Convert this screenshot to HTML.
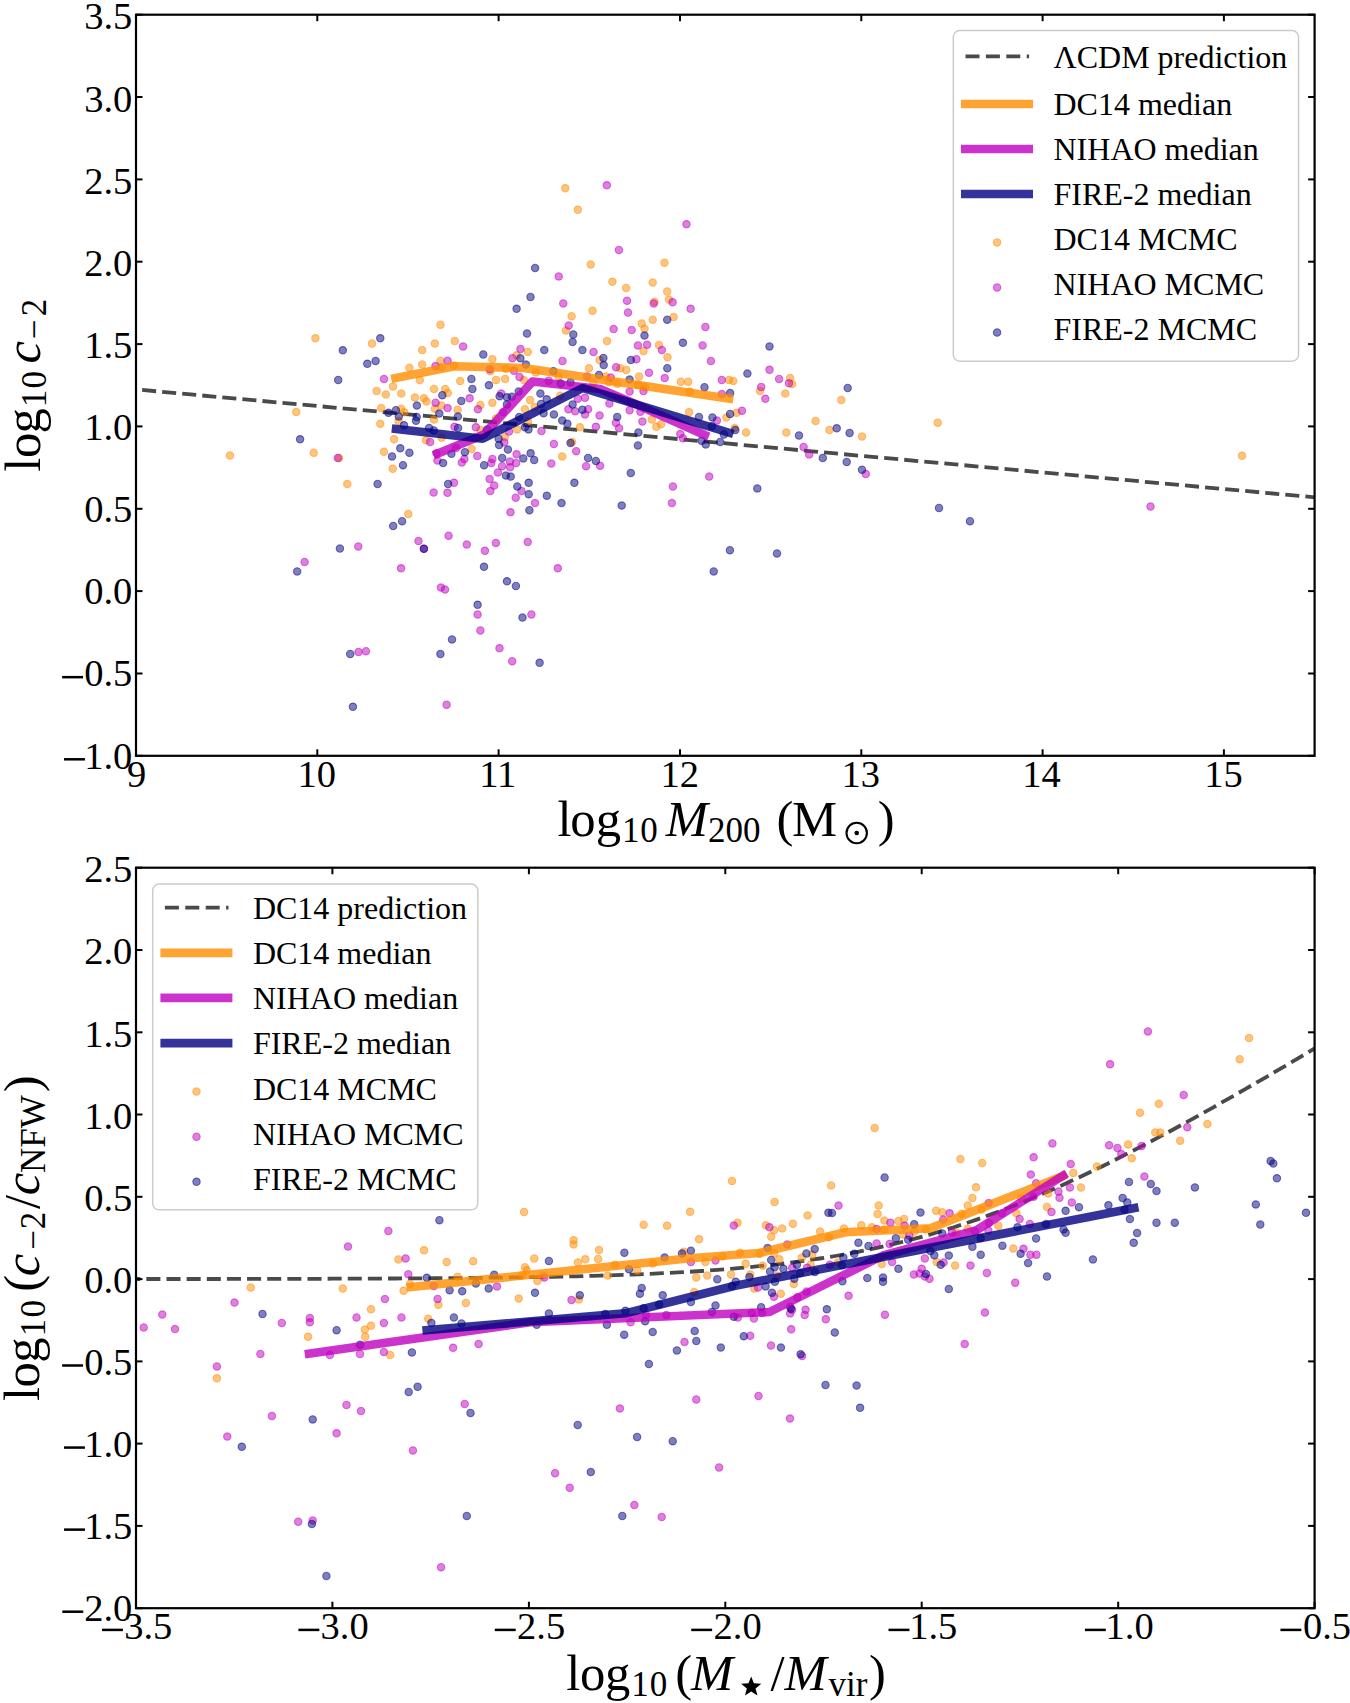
<!DOCTYPE html><html><head><meta charset="utf-8"><style>html,body{margin:0;padding:0;background:#fff;}svg{display:block;}text{font-family:"Liberation Serif",serif;fill:#000;}</style></head><body>
<svg width="1350" height="1703" viewBox="0 0 1350 1703">
<rect width="1350" height="1703" fill="#fff"/>
<defs><clipPath id="c1"><rect x="136" y="14.7" width="1178.6" height="741.0999999999999"/></clipPath></defs>
<g clip-path="url(#c1)">
<line x1="142.1" y1="389.98" x2="1320.0" y2="497.81" stroke="#4a4a4a" stroke-width="3.8" stroke-dasharray="14.06 6.08"/>
</g>
<g clip-path="url(#c1)">
<g fill="#ff8c00" fill-opacity="0.5" stroke="#ff8c00" stroke-opacity="0.5" stroke-width="1.1">
<circle cx="565.2" cy="188.3" r="3.7"/>
<circle cx="577.8" cy="209.8" r="3.7"/>
<circle cx="590.7" cy="264.6" r="3.7"/>
<circle cx="664.5" cy="262.7" r="3.7"/>
<circle cx="612.4" cy="281.8" r="3.7"/>
<circle cx="626.1" cy="288.0" r="3.7"/>
<circle cx="652.7" cy="282.6" r="3.7"/>
<circle cx="667.2" cy="291.5" r="3.7"/>
<circle cx="654.5" cy="301.7" r="3.7"/>
<circle cx="668.9" cy="299.6" r="3.7"/>
<circle cx="592.5" cy="310.8" r="3.7"/>
<circle cx="571.6" cy="316.2" r="3.7"/>
<circle cx="652.7" cy="319.7" r="3.7"/>
<circle cx="673.6" cy="317.1" r="3.7"/>
<circle cx="641.7" cy="323.5" r="3.7"/>
<circle cx="315.4" cy="338.3" r="3.7"/>
<circle cx="372.0" cy="343.6" r="3.7"/>
<circle cx="296.3" cy="411.9" r="3.7"/>
<circle cx="230.0" cy="455.4" r="3.7"/>
<circle cx="313.7" cy="452.7" r="3.7"/>
<circle cx="339.1" cy="457.9" r="3.7"/>
<circle cx="376.6" cy="390.9" r="3.7"/>
<circle cx="380.3" cy="423.7" r="3.7"/>
<circle cx="440.5" cy="324.7" r="3.7"/>
<circle cx="434.8" cy="343.6" r="3.7"/>
<circle cx="454.8" cy="340.9" r="3.7"/>
<circle cx="422.2" cy="350.1" r="3.7"/>
<circle cx="409.4" cy="367.7" r="3.7"/>
<circle cx="422.2" cy="364.4" r="3.7"/>
<circle cx="440.5" cy="360.7" r="3.7"/>
<circle cx="441.6" cy="367.2" r="3.7"/>
<circle cx="454.0" cy="365.6" r="3.7"/>
<circle cx="492.4" cy="359.2" r="3.7"/>
<circle cx="490.3" cy="371.3" r="3.7"/>
<circle cx="505.9" cy="368.7" r="3.7"/>
<circle cx="419.8" cy="379.9" r="3.7"/>
<circle cx="460.2" cy="381.0" r="3.7"/>
<circle cx="496.0" cy="379.9" r="3.7"/>
<circle cx="505.1" cy="378.9" r="3.7"/>
<circle cx="393.0" cy="386.4" r="3.7"/>
<circle cx="385.8" cy="394.5" r="3.7"/>
<circle cx="401.3" cy="393.6" r="3.7"/>
<circle cx="434.0" cy="389.0" r="3.7"/>
<circle cx="445.2" cy="389.0" r="3.7"/>
<circle cx="447.8" cy="393.1" r="3.7"/>
<circle cx="414.9" cy="397.6" r="3.7"/>
<circle cx="423.9" cy="398.3" r="3.7"/>
<circle cx="426.5" cy="401.4" r="3.7"/>
<circle cx="441.3" cy="405.6" r="3.7"/>
<circle cx="434.8" cy="408.7" r="3.7"/>
<circle cx="457.6" cy="409.7" r="3.7"/>
<circle cx="480.4" cy="405.0" r="3.7"/>
<circle cx="492.4" cy="402.7" r="3.7"/>
<circle cx="381.2" cy="408.1" r="3.7"/>
<circle cx="401.1" cy="408.7" r="3.7"/>
<circle cx="404.2" cy="412.3" r="3.7"/>
<circle cx="398.5" cy="421.1" r="3.7"/>
<circle cx="434.0" cy="419.6" r="3.7"/>
<circle cx="480.4" cy="429.9" r="3.7"/>
<circle cx="496.0" cy="418.5" r="3.7"/>
<circle cx="441.6" cy="437.7" r="3.7"/>
<circle cx="394.1" cy="439.3" r="3.7"/>
<circle cx="426.0" cy="440.3" r="3.7"/>
<circle cx="384.0" cy="451.7" r="3.7"/>
<circle cx="392.8" cy="468.8" r="3.7"/>
<circle cx="471.6" cy="449.1" r="3.7"/>
<circle cx="504.8" cy="437.2" r="3.7"/>
<circle cx="565.9" cy="330.4" r="3.7"/>
<circle cx="607.0" cy="340.9" r="3.7"/>
<circle cx="527.8" cy="351.9" r="3.7"/>
<circle cx="516.6" cy="355.3" r="3.7"/>
<circle cx="599.6" cy="359.9" r="3.7"/>
<circle cx="589.0" cy="368.2" r="3.7"/>
<circle cx="620.3" cy="368.2" r="3.7"/>
<circle cx="626.3" cy="370.0" r="3.7"/>
<circle cx="523.9" cy="380.1" r="3.7"/>
<circle cx="535.8" cy="372.4" r="3.7"/>
<circle cx="558.6" cy="376.5" r="3.7"/>
<circle cx="605.8" cy="376.5" r="3.7"/>
<circle cx="639.0" cy="376.5" r="3.7"/>
<circle cx="593.3" cy="383.3" r="3.7"/>
<circle cx="608.9" cy="382.2" r="3.7"/>
<circle cx="617.2" cy="383.8" r="3.7"/>
<circle cx="560.1" cy="395.7" r="3.7"/>
<circle cx="530.1" cy="399.9" r="3.7"/>
<circle cx="524.9" cy="409.2" r="3.7"/>
<circle cx="534.7" cy="407.1" r="3.7"/>
<circle cx="579.9" cy="427.3" r="3.7"/>
<circle cx="517.1" cy="429.4" r="3.7"/>
<circle cx="528.0" cy="421.6" r="3.7"/>
<circle cx="572.1" cy="441.9" r="3.7"/>
<circle cx="562.2" cy="456.4" r="3.7"/>
<circle cx="644.5" cy="328.8" r="3.7"/>
<circle cx="659.0" cy="344.9" r="3.7"/>
<circle cx="643.5" cy="351.1" r="3.7"/>
<circle cx="667.5" cy="357.3" r="3.7"/>
<circle cx="680.8" cy="381.7" r="3.7"/>
<circle cx="688.1" cy="381.7" r="3.7"/>
<circle cx="729.0" cy="379.9" r="3.7"/>
<circle cx="733.2" cy="381.0" r="3.7"/>
<circle cx="760.1" cy="391.0" r="3.7"/>
<circle cx="689.6" cy="391.6" r="3.7"/>
<circle cx="638.3" cy="384.8" r="3.7"/>
<circle cx="645.0" cy="386.9" r="3.7"/>
<circle cx="651.8" cy="419.6" r="3.7"/>
<circle cx="656.4" cy="426.8" r="3.7"/>
<circle cx="661.1" cy="424.2" r="3.7"/>
<circle cx="689.1" cy="412.3" r="3.7"/>
<circle cx="726.4" cy="417.5" r="3.7"/>
<circle cx="736.6" cy="412.8" r="3.7"/>
<circle cx="734.7" cy="427.9" r="3.7"/>
<circle cx="746.1" cy="432.5" r="3.7"/>
<circle cx="790.1" cy="378.1" r="3.7"/>
<circle cx="792.1" cy="383.9" r="3.7"/>
<circle cx="785.3" cy="393.6" r="3.7"/>
<circle cx="841.3" cy="399.9" r="3.7"/>
<circle cx="815.6" cy="421.0" r="3.7"/>
<circle cx="786.3" cy="432.6" r="3.7"/>
<circle cx="829.5" cy="429.9" r="3.7"/>
<circle cx="862.0" cy="436.6" r="3.7"/>
<circle cx="937.7" cy="422.7" r="3.7"/>
<circle cx="347.3" cy="483.9" r="3.7"/>
<circle cx="408.3" cy="513.9" r="3.7"/>
<circle cx="1242.0" cy="455.8" r="3.7"/>
</g>
<g fill="#bf00bf" fill-opacity="0.5" stroke="#bf00bf" stroke-opacity="0.5" stroke-width="1.1">
<circle cx="606.8" cy="185.3" r="3.7"/>
<circle cx="686.5" cy="224.3" r="3.7"/>
<circle cx="618.9" cy="249.9" r="3.7"/>
<circle cx="558.7" cy="276.4" r="3.7"/>
<circle cx="563.3" cy="303.4" r="3.7"/>
<circle cx="627.0" cy="300.7" r="3.7"/>
<circle cx="653.7" cy="303.4" r="3.7"/>
<circle cx="672.6" cy="302.3" r="3.7"/>
<circle cx="690.6" cy="308.8" r="3.7"/>
<circle cx="628.0" cy="312.5" r="3.7"/>
<circle cx="705.4" cy="327.0" r="3.7"/>
<circle cx="568.7" cy="325.6" r="3.7"/>
<circle cx="337.8" cy="457.9" r="3.7"/>
<circle cx="463.1" cy="346.4" r="3.7"/>
<circle cx="447.6" cy="360.7" r="3.7"/>
<circle cx="435.5" cy="366.1" r="3.7"/>
<circle cx="489.8" cy="369.3" r="3.7"/>
<circle cx="384.0" cy="379.1" r="3.7"/>
<circle cx="469.6" cy="398.3" r="3.7"/>
<circle cx="501.2" cy="393.6" r="3.7"/>
<circle cx="435.6" cy="402.7" r="3.7"/>
<circle cx="447.6" cy="408.1" r="3.7"/>
<circle cx="477.9" cy="409.2" r="3.7"/>
<circle cx="502.7" cy="412.3" r="3.7"/>
<circle cx="454.5" cy="426.8" r="3.7"/>
<circle cx="475.8" cy="427.3" r="3.7"/>
<circle cx="430.1" cy="441.9" r="3.7"/>
<circle cx="436.4" cy="453.3" r="3.7"/>
<circle cx="437.4" cy="460.5" r="3.7"/>
<circle cx="456.1" cy="448.1" r="3.7"/>
<circle cx="477.3" cy="455.9" r="3.7"/>
<circle cx="464.4" cy="459.0" r="3.7"/>
<circle cx="461.8" cy="462.6" r="3.7"/>
<circle cx="492.4" cy="459.0" r="3.7"/>
<circle cx="491.3" cy="463.1" r="3.7"/>
<circle cx="504.3" cy="442.4" r="3.7"/>
<circle cx="509.0" cy="431.5" r="3.7"/>
<circle cx="613.6" cy="329.1" r="3.7"/>
<circle cx="631.7" cy="329.9" r="3.7"/>
<circle cx="637.9" cy="345.4" r="3.7"/>
<circle cx="520.5" cy="349.0" r="3.7"/>
<circle cx="512.4" cy="358.2" r="3.7"/>
<circle cx="593.5" cy="351.9" r="3.7"/>
<circle cx="562.5" cy="361.0" r="3.7"/>
<circle cx="616.1" cy="367.2" r="3.7"/>
<circle cx="636.4" cy="359.2" r="3.7"/>
<circle cx="514.0" cy="370.8" r="3.7"/>
<circle cx="519.5" cy="377.0" r="3.7"/>
<circle cx="587.1" cy="376.5" r="3.7"/>
<circle cx="610.8" cy="377.6" r="3.7"/>
<circle cx="629.6" cy="391.6" r="3.7"/>
<circle cx="548.7" cy="380.7" r="3.7"/>
<circle cx="585.0" cy="397.8" r="3.7"/>
<circle cx="577.8" cy="398.8" r="3.7"/>
<circle cx="568.4" cy="409.2" r="3.7"/>
<circle cx="575.2" cy="411.3" r="3.7"/>
<circle cx="588.1" cy="409.2" r="3.7"/>
<circle cx="585.0" cy="414.4" r="3.7"/>
<circle cx="599.6" cy="415.4" r="3.7"/>
<circle cx="609.4" cy="403.5" r="3.7"/>
<circle cx="629.6" cy="410.2" r="3.7"/>
<circle cx="615.9" cy="422.7" r="3.7"/>
<circle cx="619.1" cy="428.2" r="3.7"/>
<circle cx="595.9" cy="426.8" r="3.7"/>
<circle cx="541.5" cy="431.0" r="3.7"/>
<circle cx="516.6" cy="454.3" r="3.7"/>
<circle cx="509.9" cy="461.6" r="3.7"/>
<circle cx="516.1" cy="463.1" r="3.7"/>
<circle cx="553.9" cy="443.9" r="3.7"/>
<circle cx="576.2" cy="451.2" r="3.7"/>
<circle cx="551.3" cy="463.6" r="3.7"/>
<circle cx="586.1" cy="466.2" r="3.7"/>
<circle cx="600.1" cy="465.7" r="3.7"/>
<circle cx="502.1" cy="466.2" r="3.7"/>
<circle cx="702.6" cy="345.4" r="3.7"/>
<circle cx="647.1" cy="344.7" r="3.7"/>
<circle cx="661.9" cy="350.1" r="3.7"/>
<circle cx="710.9" cy="361.0" r="3.7"/>
<circle cx="649.0" cy="372.7" r="3.7"/>
<circle cx="664.7" cy="378.1" r="3.7"/>
<circle cx="721.8" cy="379.9" r="3.7"/>
<circle cx="769.5" cy="369.8" r="3.7"/>
<circle cx="761.2" cy="386.9" r="3.7"/>
<circle cx="765.3" cy="398.8" r="3.7"/>
<circle cx="721.8" cy="394.1" r="3.7"/>
<circle cx="643.5" cy="391.0" r="3.7"/>
<circle cx="640.4" cy="411.8" r="3.7"/>
<circle cx="642.4" cy="421.6" r="3.7"/>
<circle cx="716.9" cy="420.6" r="3.7"/>
<circle cx="742.0" cy="410.7" r="3.7"/>
<circle cx="680.3" cy="434.1" r="3.7"/>
<circle cx="682.9" cy="438.2" r="3.7"/>
<circle cx="779.1" cy="378.9" r="3.7"/>
<circle cx="789.0" cy="383.3" r="3.7"/>
<circle cx="803.6" cy="446.9" r="3.7"/>
<circle cx="809.2" cy="454.4" r="3.7"/>
<circle cx="865.8" cy="473.9" r="3.7"/>
<circle cx="497.9" cy="472.4" r="3.7"/>
<circle cx="489.6" cy="479.1" r="3.7"/>
<circle cx="494.2" cy="485.5" r="3.7"/>
<circle cx="490.3" cy="491.1" r="3.7"/>
<circle cx="454.0" cy="482.8" r="3.7"/>
<circle cx="433.6" cy="492.6" r="3.7"/>
<circle cx="447.5" cy="492.8" r="3.7"/>
<circle cx="418.5" cy="540.9" r="3.7"/>
<circle cx="423.9" cy="548.8" r="3.7"/>
<circle cx="448.6" cy="535.7" r="3.7"/>
<circle cx="466.8" cy="544.6" r="3.7"/>
<circle cx="484.9" cy="550.8" r="3.7"/>
<circle cx="495.9" cy="543.0" r="3.7"/>
<circle cx="358.3" cy="546.5" r="3.7"/>
<circle cx="304.6" cy="562.0" r="3.7"/>
<circle cx="401.1" cy="568.3" r="3.7"/>
<circle cx="440.9" cy="587.6" r="3.7"/>
<circle cx="445.0" cy="589.6" r="3.7"/>
<circle cx="477.6" cy="614.5" r="3.7"/>
<circle cx="510.1" cy="467.3" r="3.7"/>
<circle cx="709.2" cy="476.6" r="3.7"/>
<circle cx="672.9" cy="486.5" r="3.7"/>
<circle cx="671.9" cy="503.1" r="3.7"/>
<circle cx="521.5" cy="491.1" r="3.7"/>
<circle cx="515.7" cy="497.7" r="3.7"/>
<circle cx="535.0" cy="503.1" r="3.7"/>
<circle cx="510.5" cy="512.3" r="3.7"/>
<circle cx="527.7" cy="541.9" r="3.7"/>
<circle cx="557.8" cy="568.3" r="3.7"/>
<circle cx="531.4" cy="614.5" r="3.7"/>
<circle cx="480.4" cy="630.5" r="3.7"/>
<circle cx="499.5" cy="648.3" r="3.7"/>
<circle cx="512.2" cy="661.2" r="3.7"/>
<circle cx="358.5" cy="651.9" r="3.7"/>
<circle cx="366.0" cy="651.2" r="3.7"/>
<circle cx="446.6" cy="704.7" r="3.7"/>
<circle cx="1150.5" cy="506.5" r="3.7"/>
</g>
<g fill="#000080" fill-opacity="0.5" stroke="#000080" stroke-opacity="0.5" stroke-width="1.1">
<circle cx="535.1" cy="268.1" r="3.7"/>
<circle cx="530.5" cy="296.9" r="3.7"/>
<circle cx="516.6" cy="308.8" r="3.7"/>
<circle cx="667.2" cy="319.7" r="3.7"/>
<circle cx="342.8" cy="350.3" r="3.7"/>
<circle cx="367.3" cy="363.8" r="3.7"/>
<circle cx="375.6" cy="360.9" r="3.7"/>
<circle cx="380.3" cy="338.3" r="3.7"/>
<circle cx="338.2" cy="379.9" r="3.7"/>
<circle cx="300.1" cy="439.3" r="3.7"/>
<circle cx="483.3" cy="354.5" r="3.7"/>
<circle cx="471.4" cy="378.9" r="3.7"/>
<circle cx="472.4" cy="389.0" r="3.7"/>
<circle cx="488.9" cy="385.3" r="3.7"/>
<circle cx="442.3" cy="395.2" r="3.7"/>
<circle cx="499.6" cy="396.2" r="3.7"/>
<circle cx="506.9" cy="397.3" r="3.7"/>
<circle cx="416.9" cy="405.6" r="3.7"/>
<circle cx="461.3" cy="400.9" r="3.7"/>
<circle cx="457.9" cy="416.4" r="3.7"/>
<circle cx="506.9" cy="404.5" r="3.7"/>
<circle cx="388.5" cy="412.8" r="3.7"/>
<circle cx="395.9" cy="410.2" r="3.7"/>
<circle cx="398.8" cy="416.4" r="3.7"/>
<circle cx="416.7" cy="417.0" r="3.7"/>
<circle cx="404.0" cy="425.3" r="3.7"/>
<circle cx="439.3" cy="413.6" r="3.7"/>
<circle cx="429.1" cy="427.9" r="3.7"/>
<circle cx="433.8" cy="430.4" r="3.7"/>
<circle cx="458.1" cy="427.9" r="3.7"/>
<circle cx="487.2" cy="429.4" r="3.7"/>
<circle cx="400.3" cy="448.3" r="3.7"/>
<circle cx="409.4" cy="452.7" r="3.7"/>
<circle cx="392.0" cy="456.4" r="3.7"/>
<circle cx="403.0" cy="465.2" r="3.7"/>
<circle cx="443.1" cy="463.1" r="3.7"/>
<circle cx="451.4" cy="453.8" r="3.7"/>
<circle cx="464.9" cy="452.2" r="3.7"/>
<circle cx="484.1" cy="465.2" r="3.7"/>
<circle cx="502.2" cy="457.9" r="3.7"/>
<circle cx="498.6" cy="438.7" r="3.7"/>
<circle cx="499.1" cy="445.0" r="3.7"/>
<circle cx="507.9" cy="449.6" r="3.7"/>
<circle cx="527.0" cy="333.5" r="3.7"/>
<circle cx="573.3" cy="334.5" r="3.7"/>
<circle cx="572.6" cy="342.0" r="3.7"/>
<circle cx="520.4" cy="358.2" r="3.7"/>
<circle cx="544.3" cy="350.1" r="3.7"/>
<circle cx="582.4" cy="350.1" r="3.7"/>
<circle cx="603.4" cy="357.9" r="3.7"/>
<circle cx="603.7" cy="365.1" r="3.7"/>
<circle cx="630.9" cy="359.9" r="3.7"/>
<circle cx="525.9" cy="364.6" r="3.7"/>
<circle cx="553.4" cy="371.3" r="3.7"/>
<circle cx="599.0" cy="375.0" r="3.7"/>
<circle cx="629.6" cy="379.6" r="3.7"/>
<circle cx="560.7" cy="383.5" r="3.7"/>
<circle cx="570.5" cy="382.2" r="3.7"/>
<circle cx="540.4" cy="393.6" r="3.7"/>
<circle cx="518.7" cy="391.6" r="3.7"/>
<circle cx="511.9" cy="396.7" r="3.7"/>
<circle cx="546.7" cy="399.3" r="3.7"/>
<circle cx="541.0" cy="404.0" r="3.7"/>
<circle cx="543.6" cy="413.3" r="3.7"/>
<circle cx="553.9" cy="414.4" r="3.7"/>
<circle cx="572.6" cy="404.5" r="3.7"/>
<circle cx="582.4" cy="409.7" r="3.7"/>
<circle cx="617.2" cy="417.0" r="3.7"/>
<circle cx="562.2" cy="420.6" r="3.7"/>
<circle cx="567.4" cy="423.7" r="3.7"/>
<circle cx="528.5" cy="429.4" r="3.7"/>
<circle cx="524.9" cy="427.3" r="3.7"/>
<circle cx="519.2" cy="417.0" r="3.7"/>
<circle cx="638.4" cy="432.5" r="3.7"/>
<circle cx="637.9" cy="445.5" r="3.7"/>
<circle cx="523.3" cy="458.4" r="3.7"/>
<circle cx="530.6" cy="453.3" r="3.7"/>
<circle cx="534.2" cy="460.0" r="3.7"/>
<circle cx="570.5" cy="442.9" r="3.7"/>
<circle cx="588.1" cy="457.9" r="3.7"/>
<circle cx="595.9" cy="461.0" r="3.7"/>
<circle cx="644.5" cy="335.6" r="3.7"/>
<circle cx="682.9" cy="342.8" r="3.7"/>
<circle cx="667.3" cy="368.2" r="3.7"/>
<circle cx="704.5" cy="387.2" r="3.7"/>
<circle cx="747.4" cy="373.6" r="3.7"/>
<circle cx="769.5" cy="346.4" r="3.7"/>
<circle cx="730.1" cy="393.1" r="3.7"/>
<circle cx="699.0" cy="417.0" r="3.7"/>
<circle cx="712.4" cy="417.5" r="3.7"/>
<circle cx="730.1" cy="413.9" r="3.7"/>
<circle cx="735.3" cy="429.9" r="3.7"/>
<circle cx="701.6" cy="440.8" r="3.7"/>
<circle cx="705.7" cy="444.4" r="3.7"/>
<circle cx="720.2" cy="441.9" r="3.7"/>
<circle cx="723.9" cy="434.6" r="3.7"/>
<circle cx="711.9" cy="426.3" r="3.7"/>
<circle cx="847.7" cy="388.0" r="3.7"/>
<circle cx="799.0" cy="435.5" r="3.7"/>
<circle cx="836.7" cy="428.3" r="3.7"/>
<circle cx="849.6" cy="433.0" r="3.7"/>
<circle cx="822.8" cy="457.9" r="3.7"/>
<circle cx="846.7" cy="461.9" r="3.7"/>
<circle cx="862.0" cy="469.7" r="3.7"/>
<circle cx="377.6" cy="483.9" r="3.7"/>
<circle cx="448.1" cy="483.9" r="3.7"/>
<circle cx="402.1" cy="521.2" r="3.7"/>
<circle cx="393.2" cy="526.0" r="3.7"/>
<circle cx="423.9" cy="548.8" r="3.7"/>
<circle cx="339.9" cy="548.6" r="3.7"/>
<circle cx="297.2" cy="571.4" r="3.7"/>
<circle cx="484.0" cy="566.8" r="3.7"/>
<circle cx="477.6" cy="604.8" r="3.7"/>
<circle cx="630.8" cy="472.9" r="3.7"/>
<circle cx="757.3" cy="488.4" r="3.7"/>
<circle cx="621.7" cy="505.6" r="3.7"/>
<circle cx="505.9" cy="475.6" r="3.7"/>
<circle cx="510.7" cy="476.6" r="3.7"/>
<circle cx="517.3" cy="486.5" r="3.7"/>
<circle cx="528.7" cy="482.8" r="3.7"/>
<circle cx="528.7" cy="494.2" r="3.7"/>
<circle cx="546.8" cy="495.7" r="3.7"/>
<circle cx="561.5" cy="503.1" r="3.7"/>
<circle cx="574.4" cy="482.8" r="3.7"/>
<circle cx="529.4" cy="510.2" r="3.7"/>
<circle cx="507.0" cy="581.3" r="3.7"/>
<circle cx="515.9" cy="585.9" r="3.7"/>
<circle cx="729.9" cy="550.2" r="3.7"/>
<circle cx="713.7" cy="571.4" r="3.7"/>
<circle cx="522.5" cy="617.6" r="3.7"/>
<circle cx="452.0" cy="639.4" r="3.7"/>
<circle cx="440.4" cy="653.9" r="3.7"/>
<circle cx="539.6" cy="662.8" r="3.7"/>
<circle cx="350.2" cy="653.9" r="3.7"/>
<circle cx="352.9" cy="706.8" r="3.7"/>
<circle cx="939.0" cy="508.0" r="3.7"/>
<circle cx="970.0" cy="521.2" r="3.7"/>
<circle cx="777.0" cy="553.5" r="3.7"/>
<circle cx="416.0" cy="420.8" r="3.7"/>
</g>
</g>
<polyline points="391.3,378.9 454.5,366.3 524.0,368.0 733.3,399.3" fill="none" stroke="rgba(255,140,0,0.8)" stroke-width="8.6" stroke-linejoin="round" stroke-linecap="butt"/>
<polyline points="433.6,455.3 484.0,434.5 532.5,381.5 600.0,389.0 633.0,403.0 708.7,436.7" fill="none" stroke="rgba(191,0,191,0.8)" stroke-width="8.6" stroke-linejoin="round" stroke-linecap="butt"/>
<polyline points="391.8,428.5 482.7,438.7 582.7,388.0 733.3,434.0" fill="none" stroke="rgba(0,0,128,0.8)" stroke-width="8.6" stroke-linejoin="round" stroke-linecap="butt"/>
<rect x="953.3" y="30.6" width="345.2" height="330.6" rx="6.4" fill="#fff" fill-opacity="0.8" stroke="#cccccc" stroke-width="1.5"/>
<line x1="965.5" y1="56.3" x2="1029.1" y2="56.3" stroke="#4a4a4a" stroke-width="3.8" stroke-dasharray="14 6.4"/>
<text x="1053.5" y="67.6" font-size="32">ΛCDM prediction</text>
<line x1="961.0" y1="104.0" x2="1033.0" y2="104.0" stroke="rgba(255,140,0,0.8)" stroke-width="8.7"/>
<text x="1053.5" y="115.3" font-size="32">DC14 median</text>
<line x1="961.0" y1="149.0" x2="1033.0" y2="149.0" stroke="rgba(191,0,191,0.8)" stroke-width="8.7"/>
<text x="1053.5" y="160.3" font-size="32">NIHAO median</text>
<line x1="961.0" y1="194.0" x2="1033.0" y2="194.0" stroke="rgba(0,0,128,0.8)" stroke-width="8.7"/>
<text x="1053.5" y="205.3" font-size="32">FIRE-2 median</text>
<circle cx="997.1" cy="242.5" r="3.7" fill="#ff8c00" fill-opacity="0.5" stroke="#ff8c00" stroke-opacity="0.5" stroke-width="1.1"/>
<text x="1053.5" y="250.4" font-size="32">DC14 MCMC</text>
<circle cx="997.1" cy="287.5" r="3.7" fill="#bf00bf" fill-opacity="0.5" stroke="#bf00bf" stroke-opacity="0.5" stroke-width="1.1"/>
<text x="1053.5" y="295.4" font-size="32">NIHAO MCMC</text>
<circle cx="997.1" cy="332.5" r="3.7" fill="#000080" fill-opacity="0.5" stroke="#000080" stroke-opacity="0.5" stroke-width="1.1"/>
<text x="1053.5" y="340.4" font-size="32">FIRE-2 MCMC</text>
<line x1="136.0" y1="755.8" x2="136.0" y2="749.3" stroke="#000" stroke-width="2"/>
<line x1="136.0" y1="14.7" x2="136.0" y2="21.2" stroke="#000" stroke-width="2"/>
<text x="126.94" y="786.80" font-size="38.5">9</text>
<line x1="317.3" y1="755.8" x2="317.3" y2="749.3" stroke="#000" stroke-width="2"/>
<line x1="317.3" y1="14.7" x2="317.3" y2="21.2" stroke="#000" stroke-width="2"/>
<text x="297.51" y="786.80" font-size="38.5">10</text>
<line x1="498.6" y1="755.8" x2="498.6" y2="749.3" stroke="#000" stroke-width="2"/>
<line x1="498.6" y1="14.7" x2="498.6" y2="21.2" stroke="#000" stroke-width="2"/>
<text x="479.26" y="786.80" font-size="38.5">11</text>
<line x1="680.0" y1="755.8" x2="680.0" y2="749.3" stroke="#000" stroke-width="2"/>
<line x1="680.0" y1="14.7" x2="680.0" y2="21.2" stroke="#000" stroke-width="2"/>
<text x="660.49" y="786.80" font-size="38.5">12</text>
<line x1="861.3" y1="755.8" x2="861.3" y2="749.3" stroke="#000" stroke-width="2"/>
<line x1="861.3" y1="14.7" x2="861.3" y2="21.2" stroke="#000" stroke-width="2"/>
<text x="841.50" y="786.80" font-size="38.5">13</text>
<line x1="1042.6" y1="755.8" x2="1042.6" y2="749.3" stroke="#000" stroke-width="2"/>
<line x1="1042.6" y1="14.7" x2="1042.6" y2="21.2" stroke="#000" stroke-width="2"/>
<text x="1022.37" y="786.80" font-size="38.5">14</text>
<line x1="1223.9" y1="755.8" x2="1223.9" y2="749.3" stroke="#000" stroke-width="2"/>
<line x1="1223.9" y1="14.7" x2="1223.9" y2="21.2" stroke="#000" stroke-width="2"/>
<text x="1204.15" y="786.80" font-size="38.5">15</text>
<line x1="136" y1="755.8" x2="142.5" y2="755.8" stroke="#000" stroke-width="2"/>
<line x1="1314.6" y1="755.8" x2="1308.1" y2="755.8" stroke="#000" stroke-width="2"/>
<rect x="64.03" y="758.05" width="20.9" height="2.5" fill="#000"/>
<text x="84.14" y="768.60" font-size="38.5">1.0</text>
<line x1="136" y1="673.5" x2="142.5" y2="673.5" stroke="#000" stroke-width="2"/>
<line x1="1314.6" y1="673.5" x2="1308.1" y2="673.5" stroke="#000" stroke-width="2"/>
<rect x="62.15" y="675.92" width="20.9" height="2.5" fill="#000"/>
<text x="84.18" y="686.47" font-size="38.5">0.5</text>
<line x1="136" y1="591.1" x2="142.5" y2="591.1" stroke="#000" stroke-width="2"/>
<line x1="1314.6" y1="591.1" x2="1308.1" y2="591.1" stroke="#000" stroke-width="2"/>
<text x="84.14" y="604.33" font-size="38.5">0.0</text>
<line x1="136" y1="508.8" x2="142.5" y2="508.8" stroke="#000" stroke-width="2"/>
<line x1="1314.6" y1="508.8" x2="1308.1" y2="508.8" stroke="#000" stroke-width="2"/>
<text x="84.18" y="522.20" font-size="38.5">0.5</text>
<line x1="136" y1="426.4" x2="142.5" y2="426.4" stroke="#000" stroke-width="2"/>
<line x1="1314.6" y1="426.4" x2="1308.1" y2="426.4" stroke="#000" stroke-width="2"/>
<text x="84.14" y="440.07" font-size="38.5">1.0</text>
<line x1="136" y1="344.1" x2="142.5" y2="344.1" stroke="#000" stroke-width="2"/>
<line x1="1314.6" y1="344.1" x2="1308.1" y2="344.1" stroke="#000" stroke-width="2"/>
<text x="84.18" y="357.93" font-size="38.5">1.5</text>
<line x1="136" y1="261.7" x2="142.5" y2="261.7" stroke="#000" stroke-width="2"/>
<line x1="1314.6" y1="261.7" x2="1308.1" y2="261.7" stroke="#000" stroke-width="2"/>
<text x="84.14" y="275.80" font-size="38.5">2.0</text>
<line x1="136" y1="179.4" x2="142.5" y2="179.4" stroke="#000" stroke-width="2"/>
<line x1="1314.6" y1="179.4" x2="1308.1" y2="179.4" stroke="#000" stroke-width="2"/>
<text x="84.18" y="193.67" font-size="38.5">2.5</text>
<line x1="136" y1="97.0" x2="142.5" y2="97.0" stroke="#000" stroke-width="2"/>
<line x1="1314.6" y1="97.0" x2="1308.1" y2="97.0" stroke="#000" stroke-width="2"/>
<text x="84.14" y="111.53" font-size="38.5">3.0</text>
<line x1="136" y1="14.7" x2="142.5" y2="14.7" stroke="#000" stroke-width="2"/>
<line x1="1314.6" y1="14.7" x2="1308.1" y2="14.7" stroke="#000" stroke-width="2"/>
<text x="84.18" y="29.40" font-size="38.5">3.5</text>
<rect x="136" y="14.7" width="1178.6" height="741.1" fill="none" stroke="#000" stroke-width="2.2"/>
<text x="557.56" y="835.70" font-size="50.7">l</text>
<text x="570.33" y="835.70" font-size="50.7">o</text>
<text x="595.72" y="835.70" font-size="50.7">g</text>
<text x="622.11" y="842.10" font-size="35.0">1</text>
<text x="640.25" y="842.10" font-size="35.0">0</text>
<text x="665.67" y="835.70" font-size="50.7" font-style="italic">M</text>
<text x="708.00" y="842.10" font-size="35.0">200</text>
<text x="776.61" y="835.70" font-size="50.7">(</text>
<text x="792.12" y="835.70" font-size="50.7">M</text>
<text x="877.86" y="835.70" font-size="50.7">)</text>
<circle cx="856.7" cy="833" r="10.2" fill="none" stroke="#000" stroke-width="2.1"/><circle cx="856.7" cy="833" r="2.3" fill="#000"/>
<text transform="translate(39.50,471.74) rotate(-90)" font-size="50.7">l</text>
<text transform="translate(39.50,457.97) rotate(-90)" font-size="50.7">o</text>
<text transform="translate(39.50,433.38) rotate(-90)" font-size="50.7">g</text>
<text transform="translate(45.90,407.29) rotate(-90)" font-size="35.0">1</text>
<text transform="translate(45.90,388.45) rotate(-90)" font-size="35.0">0</text>
<text transform="translate(39.50,363.41) rotate(-90)" font-size="50.7" font-style="italic">c</text>
<text transform="translate(45.90,339.24) rotate(-90)" font-size="35.0">−</text>
<text transform="translate(45.90,316.15) rotate(-90)" font-size="35.0">2</text>
<defs><clipPath id="c2"><rect x="136" y="867.7" width="1178.6" height="740.5"/></clipPath></defs>
<g clip-path="url(#c2)">
<polyline points="136.0,1279.0 143.9,1279.0 151.7,1279.0 159.6,1279.0 167.4,1279.0 175.3,1279.0 183.1,1279.0 191.0,1279.0 198.9,1279.0 206.7,1279.0 214.6,1279.0 222.4,1279.0 230.3,1278.9 238.1,1278.9 246.0,1278.9 253.9,1278.9 261.7,1278.9 269.6,1278.9 277.4,1278.9 285.3,1278.9 293.1,1278.8 301.0,1278.8 308.9,1278.8 316.7,1278.8 324.6,1278.8 332.4,1278.7 340.3,1278.7 348.1,1278.7 356.0,1278.7 363.9,1278.6 371.7,1278.6 379.6,1278.6 387.4,1278.5 395.3,1278.5 403.1,1278.4 411.0,1278.4 418.9,1278.3 426.7,1278.3 434.6,1278.2 442.4,1278.2 450.3,1278.1 458.2,1278.1 466.0,1278.0 473.9,1277.9 481.7,1277.8 489.6,1277.7 497.4,1277.6 505.3,1277.5 513.2,1277.4 521.0,1277.3 528.9,1277.2 536.7,1277.1 544.6,1276.9 552.4,1276.8 560.3,1276.6 568.2,1276.4 576.0,1276.3 583.9,1276.1 591.7,1275.8 599.6,1275.6 607.4,1275.4 615.3,1275.1 623.2,1274.9 631.0,1274.6 638.9,1274.3 646.7,1273.9 654.6,1273.6 662.4,1273.2 670.3,1272.8 678.2,1272.4 686.0,1272.0 693.9,1271.5 701.7,1271.0 709.6,1270.4 717.4,1269.9 725.3,1269.3 733.2,1268.6 741.0,1267.9 748.9,1267.2 756.7,1266.4 764.6,1265.6 772.4,1264.8 780.3,1263.9 788.2,1262.9 796.0,1261.9 803.9,1260.8 811.7,1259.7 819.6,1258.5 827.4,1257.3 835.3,1256.0 843.2,1254.6 851.0,1253.1 858.9,1251.6 866.7,1250.0 874.6,1248.4 882.4,1246.6 890.3,1244.8 898.2,1242.9 906.0,1241.0 913.9,1238.9 921.7,1236.8 929.6,1234.6 937.4,1232.3 945.3,1229.9 953.2,1227.5 961.0,1224.9 968.9,1222.3 976.7,1219.6 984.6,1216.8 992.4,1213.9 1000.3,1211.0 1008.2,1208.0 1016.0,1204.9 1023.9,1201.7 1031.7,1198.4 1039.6,1195.1 1047.5,1191.7 1055.3,1188.3 1063.2,1184.7 1071.0,1181.1 1078.9,1177.5 1086.7,1173.8 1094.6,1170.0 1102.5,1166.2 1110.3,1162.3 1118.2,1158.3 1126.0,1154.3 1133.9,1150.3 1141.7,1146.2 1149.6,1142.1 1157.5,1137.9 1165.3,1133.7 1173.2,1129.5 1181.0,1125.2 1188.9,1120.9 1196.7,1116.6 1204.6,1112.2 1212.5,1107.8 1220.3,1103.3 1228.2,1098.9 1236.0,1094.4 1243.9,1089.9 1251.7,1085.4 1259.6,1080.8 1267.5,1076.3 1275.3,1071.7 1283.2,1067.1 1291.0,1062.5 1298.9,1057.8 1306.7,1053.2 1314.6,1048.5" fill="none" stroke="#4a4a4a" stroke-width="3.8" stroke-dasharray="14.06 6.08" stroke-dashoffset="9.8"/>
</g>
<g clip-path="url(#c2)">
<g fill="#ff8c00" fill-opacity="0.5" stroke="#ff8c00" stroke-opacity="0.5" stroke-width="1.1">
<circle cx="398.4" cy="1259.5" r="3.7"/>
<circle cx="250.7" cy="1287.5" r="3.7"/>
<circle cx="342.8" cy="1288.5" r="3.7"/>
<circle cx="403.6" cy="1290.8" r="3.7"/>
<circle cx="371.0" cy="1309.2" r="3.7"/>
<circle cx="364.8" cy="1329.6" r="3.7"/>
<circle cx="371.0" cy="1325.8" r="3.7"/>
<circle cx="308.1" cy="1336.8" r="3.7"/>
<circle cx="365.2" cy="1336.8" r="3.7"/>
<circle cx="390.1" cy="1354.9" r="3.7"/>
<circle cx="216.9" cy="1378.3" r="3.7"/>
<circle cx="524.1" cy="1211.9" r="3.7"/>
<circle cx="424.1" cy="1250.3" r="3.7"/>
<circle cx="446.7" cy="1262.0" r="3.7"/>
<circle cx="473.2" cy="1261.2" r="3.7"/>
<circle cx="534.3" cy="1258.4" r="3.7"/>
<circle cx="525.0" cy="1267.2" r="3.7"/>
<circle cx="526.7" cy="1270.3" r="3.7"/>
<circle cx="457.6" cy="1276.7" r="3.7"/>
<circle cx="522.4" cy="1275.2" r="3.7"/>
<circle cx="409.9" cy="1284.0" r="3.7"/>
<circle cx="537.4" cy="1280.9" r="3.7"/>
<circle cx="438.4" cy="1304.7" r="3.7"/>
<circle cx="465.9" cy="1303.0" r="3.7"/>
<circle cx="518.7" cy="1298.5" r="3.7"/>
<circle cx="428.2" cy="1318.7" r="3.7"/>
<circle cx="643.6" cy="1224.7" r="3.7"/>
<circle cx="667.1" cy="1225.8" r="3.7"/>
<circle cx="573.6" cy="1240.3" r="3.7"/>
<circle cx="573.6" cy="1244.4" r="3.7"/>
<circle cx="599.0" cy="1250.1" r="3.7"/>
<circle cx="577.9" cy="1262.6" r="3.7"/>
<circle cx="585.3" cy="1259.3" r="3.7"/>
<circle cx="598.1" cy="1259.0" r="3.7"/>
<circle cx="615.0" cy="1264.7" r="3.7"/>
<circle cx="652.9" cy="1263.6" r="3.7"/>
<circle cx="543.0" cy="1275.6" r="3.7"/>
<circle cx="578.9" cy="1299.4" r="3.7"/>
<circle cx="607.8" cy="1275.6" r="3.7"/>
<circle cx="637.3" cy="1270.4" r="3.7"/>
<circle cx="774.6" cy="1201.9" r="3.7"/>
<circle cx="690.1" cy="1211.8" r="3.7"/>
<circle cx="737.6" cy="1222.7" r="3.7"/>
<circle cx="765.8" cy="1225.3" r="3.7"/>
<circle cx="774.1" cy="1230.2" r="3.7"/>
<circle cx="782.2" cy="1228.4" r="3.7"/>
<circle cx="792.9" cy="1223.7" r="3.7"/>
<circle cx="771.2" cy="1236.7" r="3.7"/>
<circle cx="699.1" cy="1239.3" r="3.7"/>
<circle cx="683.9" cy="1251.7" r="3.7"/>
<circle cx="705.4" cy="1262.1" r="3.7"/>
<circle cx="722.7" cy="1256.4" r="3.7"/>
<circle cx="739.9" cy="1252.7" r="3.7"/>
<circle cx="759.6" cy="1253.8" r="3.7"/>
<circle cx="774.1" cy="1253.3" r="3.7"/>
<circle cx="779.3" cy="1259.3" r="3.7"/>
<circle cx="745.7" cy="1263.8" r="3.7"/>
<circle cx="762.7" cy="1265.7" r="3.7"/>
<circle cx="696.3" cy="1277.6" r="3.7"/>
<circle cx="707.2" cy="1275.6" r="3.7"/>
<circle cx="731.0" cy="1274.5" r="3.7"/>
<circle cx="750.2" cy="1274.5" r="3.7"/>
<circle cx="754.2" cy="1288.5" r="3.7"/>
<circle cx="777.2" cy="1275.6" r="3.7"/>
<circle cx="780.8" cy="1293.7" r="3.7"/>
<circle cx="793.8" cy="1283.9" r="3.7"/>
<circle cx="694.2" cy="1292.1" r="3.7"/>
<circle cx="807.6" cy="1215.4" r="3.7"/>
<circle cx="878.7" cy="1205.6" r="3.7"/>
<circle cx="877.6" cy="1213.9" r="3.7"/>
<circle cx="884.4" cy="1220.6" r="3.7"/>
<circle cx="898.4" cy="1221.1" r="3.7"/>
<circle cx="904.1" cy="1219.0" r="3.7"/>
<circle cx="820.1" cy="1231.5" r="3.7"/>
<circle cx="843.9" cy="1228.4" r="3.7"/>
<circle cx="861.3" cy="1225.3" r="3.7"/>
<circle cx="871.9" cy="1227.3" r="3.7"/>
<circle cx="884.4" cy="1229.4" r="3.7"/>
<circle cx="828.9" cy="1237.2" r="3.7"/>
<circle cx="903.0" cy="1234.6" r="3.7"/>
<circle cx="914.4" cy="1231.5" r="3.7"/>
<circle cx="925.9" cy="1229.4" r="3.7"/>
<circle cx="801.9" cy="1257.4" r="3.7"/>
<circle cx="812.3" cy="1254.8" r="3.7"/>
<circle cx="810.7" cy="1264.7" r="3.7"/>
<circle cx="837.7" cy="1262.6" r="3.7"/>
<circle cx="881.8" cy="1264.1" r="3.7"/>
<circle cx="960.4" cy="1159.1" r="3.7"/>
<circle cx="982.2" cy="1163.0" r="3.7"/>
<circle cx="976.0" cy="1187.3" r="3.7"/>
<circle cx="972.4" cy="1198.0" r="3.7"/>
<circle cx="967.7" cy="1205.5" r="3.7"/>
<circle cx="936.1" cy="1210.7" r="3.7"/>
<circle cx="942.3" cy="1212.2" r="3.7"/>
<circle cx="961.5" cy="1213.8" r="3.7"/>
<circle cx="981.7" cy="1209.6" r="3.7"/>
<circle cx="1016.4" cy="1213.3" r="3.7"/>
<circle cx="1021.1" cy="1198.2" r="3.7"/>
<circle cx="1048.1" cy="1193.6" r="3.7"/>
<circle cx="1047.0" cy="1207.0" r="3.7"/>
<circle cx="967.7" cy="1228.8" r="3.7"/>
<circle cx="998.3" cy="1225.7" r="3.7"/>
<circle cx="956.3" cy="1232.4" r="3.7"/>
<circle cx="1013.3" cy="1248.5" r="3.7"/>
<circle cx="936.6" cy="1262.0" r="3.7"/>
<circle cx="955.1" cy="1265.6" r="3.7"/>
<circle cx="1249.1" cy="1038.0" r="3.7"/>
<circle cx="1239.7" cy="1059.2" r="3.7"/>
<circle cx="1158.8" cy="1103.7" r="3.7"/>
<circle cx="1140.0" cy="1112.7" r="3.7"/>
<circle cx="1207.4" cy="1124.1" r="3.7"/>
<circle cx="1155.3" cy="1132.4" r="3.7"/>
<circle cx="1160.3" cy="1132.4" r="3.7"/>
<circle cx="1180.2" cy="1140.7" r="3.7"/>
<circle cx="1128.1" cy="1144.4" r="3.7"/>
<circle cx="1131.7" cy="1158.3" r="3.7"/>
<circle cx="1097.0" cy="1166.6" r="3.7"/>
<circle cx="1073.3" cy="1173.0" r="3.7"/>
<circle cx="1080.9" cy="1187.5" r="3.7"/>
<circle cx="874.7" cy="1128.0" r="3.7"/>
<circle cx="732.0" cy="1180.9" r="3.7"/>
<circle cx="831.1" cy="1185.4" r="3.7"/>
</g>
<g fill="#bf00bf" fill-opacity="0.5" stroke="#bf00bf" stroke-opacity="0.5" stroke-width="1.1">
<circle cx="388.4" cy="1231.0" r="3.7"/>
<circle cx="348.0" cy="1246.6" r="3.7"/>
<circle cx="405.6" cy="1258.4" r="3.7"/>
<circle cx="408.3" cy="1274.2" r="3.7"/>
<circle cx="234.5" cy="1302.6" r="3.7"/>
<circle cx="384.9" cy="1299.1" r="3.7"/>
<circle cx="162.3" cy="1314.6" r="3.7"/>
<circle cx="143.7" cy="1327.5" r="3.7"/>
<circle cx="175.0" cy="1329.1" r="3.7"/>
<circle cx="281.8" cy="1322.9" r="3.7"/>
<circle cx="309.8" cy="1318.1" r="3.7"/>
<circle cx="309.8" cy="1322.3" r="3.7"/>
<circle cx="356.5" cy="1317.5" r="3.7"/>
<circle cx="383.9" cy="1322.9" r="3.7"/>
<circle cx="401.5" cy="1317.5" r="3.7"/>
<circle cx="260.4" cy="1354.0" r="3.7"/>
<circle cx="329.9" cy="1354.9" r="3.7"/>
<circle cx="360.0" cy="1354.0" r="3.7"/>
<circle cx="383.9" cy="1352.0" r="3.7"/>
<circle cx="216.9" cy="1366.5" r="3.7"/>
<circle cx="346.5" cy="1404.9" r="3.7"/>
<circle cx="361.0" cy="1411.1" r="3.7"/>
<circle cx="271.9" cy="1415.9" r="3.7"/>
<circle cx="336.6" cy="1433.3" r="3.7"/>
<circle cx="227.3" cy="1436.6" r="3.7"/>
<circle cx="412.9" cy="1450.5" r="3.7"/>
<circle cx="298.2" cy="1521.7" r="3.7"/>
<circle cx="312.7" cy="1520.6" r="3.7"/>
<circle cx="433.7" cy="1286.1" r="3.7"/>
<circle cx="497.0" cy="1286.4" r="3.7"/>
<circle cx="437.6" cy="1299.0" r="3.7"/>
<circle cx="478.6" cy="1343.9" r="3.7"/>
<circle cx="453.1" cy="1347.8" r="3.7"/>
<circle cx="464.7" cy="1403.9" r="3.7"/>
<circle cx="619.9" cy="1408.4" r="3.7"/>
<circle cx="555.1" cy="1473.2" r="3.7"/>
<circle cx="569.7" cy="1487.7" r="3.7"/>
<circle cx="441.1" cy="1567.2" r="3.7"/>
<circle cx="634.4" cy="1505.1" r="3.7"/>
<circle cx="661.7" cy="1517.0" r="3.7"/>
<circle cx="544.3" cy="1277.6" r="3.7"/>
<circle cx="571.5" cy="1299.9" r="3.7"/>
<circle cx="646.1" cy="1315.0" r="3.7"/>
<circle cx="630.6" cy="1322.2" r="3.7"/>
<circle cx="666.4" cy="1315.0" r="3.7"/>
<circle cx="733.8" cy="1225.6" r="3.7"/>
<circle cx="769.4" cy="1227.3" r="3.7"/>
<circle cx="690.9" cy="1262.1" r="3.7"/>
<circle cx="715.5" cy="1260.5" r="3.7"/>
<circle cx="787.3" cy="1244.4" r="3.7"/>
<circle cx="792.2" cy="1267.8" r="3.7"/>
<circle cx="758.0" cy="1287.5" r="3.7"/>
<circle cx="773.9" cy="1296.8" r="3.7"/>
<circle cx="737.8" cy="1317.6" r="3.7"/>
<circle cx="751.8" cy="1312.9" r="3.7"/>
<circle cx="753.9" cy="1318.6" r="3.7"/>
<circle cx="762.1" cy="1312.9" r="3.7"/>
<circle cx="790.1" cy="1306.7" r="3.7"/>
<circle cx="790.1" cy="1313.4" r="3.7"/>
<circle cx="791.2" cy="1329.3" r="3.7"/>
<circle cx="750.2" cy="1335.7" r="3.7"/>
<circle cx="684.5" cy="1342.0" r="3.7"/>
<circle cx="771.0" cy="1345.6" r="3.7"/>
<circle cx="802.1" cy="1355.9" r="3.7"/>
<circle cx="696.3" cy="1399.5" r="3.7"/>
<circle cx="758.5" cy="1396.0" r="3.7"/>
<circle cx="790.0" cy="1418.6" r="3.7"/>
<circle cx="719.1" cy="1467.5" r="3.7"/>
<circle cx="838.5" cy="1205.6" r="3.7"/>
<circle cx="890.4" cy="1222.7" r="3.7"/>
<circle cx="904.6" cy="1225.8" r="3.7"/>
<circle cx="876.6" cy="1228.9" r="3.7"/>
<circle cx="909.3" cy="1235.6" r="3.7"/>
<circle cx="876.6" cy="1243.4" r="3.7"/>
<circle cx="889.6" cy="1243.9" r="3.7"/>
<circle cx="807.1" cy="1267.8" r="3.7"/>
<circle cx="829.9" cy="1264.7" r="3.7"/>
<circle cx="892.1" cy="1262.1" r="3.7"/>
<circle cx="924.8" cy="1258.4" r="3.7"/>
<circle cx="921.7" cy="1268.8" r="3.7"/>
<circle cx="913.9" cy="1274.5" r="3.7"/>
<circle cx="919.6" cy="1273.5" r="3.7"/>
<circle cx="924.8" cy="1276.6" r="3.7"/>
<circle cx="929.5" cy="1278.7" r="3.7"/>
<circle cx="848.6" cy="1295.8" r="3.7"/>
<circle cx="806.6" cy="1291.6" r="3.7"/>
<circle cx="797.3" cy="1297.3" r="3.7"/>
<circle cx="792.1" cy="1309.8" r="3.7"/>
<circle cx="805.6" cy="1309.8" r="3.7"/>
<circle cx="804.7" cy="1315.0" r="3.7"/>
<circle cx="825.8" cy="1319.3" r="3.7"/>
<circle cx="884.9" cy="1314.7" r="3.7"/>
<circle cx="1033.6" cy="1157.3" r="3.7"/>
<circle cx="1030.8" cy="1174.6" r="3.7"/>
<circle cx="1036.1" cy="1183.2" r="3.7"/>
<circle cx="988.7" cy="1203.1" r="3.7"/>
<circle cx="949.6" cy="1213.3" r="3.7"/>
<circle cx="943.3" cy="1219.5" r="3.7"/>
<circle cx="1001.9" cy="1213.3" r="3.7"/>
<circle cx="1019.6" cy="1219.0" r="3.7"/>
<circle cx="1033.6" cy="1196.7" r="3.7"/>
<circle cx="1051.5" cy="1212.0" r="3.7"/>
<circle cx="1058.4" cy="1191.5" r="3.7"/>
<circle cx="1059.5" cy="1197.7" r="3.7"/>
<circle cx="989.0" cy="1223.1" r="3.7"/>
<circle cx="1029.9" cy="1224.1" r="3.7"/>
<circle cx="952.1" cy="1232.4" r="3.7"/>
<circle cx="975.0" cy="1231.4" r="3.7"/>
<circle cx="988.4" cy="1230.4" r="3.7"/>
<circle cx="1023.5" cy="1248.8" r="3.7"/>
<circle cx="1030.4" cy="1254.7" r="3.7"/>
<circle cx="1036.4" cy="1254.7" r="3.7"/>
<circle cx="943.6" cy="1262.5" r="3.7"/>
<circle cx="970.5" cy="1265.6" r="3.7"/>
<circle cx="986.9" cy="1272.9" r="3.7"/>
<circle cx="1015.2" cy="1282.7" r="3.7"/>
<circle cx="1147.9" cy="1031.4" r="3.7"/>
<circle cx="1110.1" cy="1064.3" r="3.7"/>
<circle cx="1183.7" cy="1095.0" r="3.7"/>
<circle cx="1187.3" cy="1127.2" r="3.7"/>
<circle cx="1052.4" cy="1143.4" r="3.7"/>
<circle cx="1109.1" cy="1145.2" r="3.7"/>
<circle cx="1117.4" cy="1147.9" r="3.7"/>
<circle cx="1121.3" cy="1154.1" r="3.7"/>
<circle cx="1141.6" cy="1145.9" r="3.7"/>
<circle cx="1070.7" cy="1164.1" r="3.7"/>
<circle cx="1144.4" cy="1176.6" r="3.7"/>
<circle cx="1069.9" cy="1187.5" r="3.7"/>
<circle cx="1071.8" cy="1202.5" r="3.7"/>
<circle cx="984.9" cy="1312.6" r="3.7"/>
<circle cx="964.7" cy="1344.1" r="3.7"/>
</g>
<g fill="#000080" fill-opacity="0.5" stroke="#000080" stroke-opacity="0.5" stroke-width="1.1">
<circle cx="262.5" cy="1314.0" r="3.7"/>
<circle cx="336.6" cy="1330.2" r="3.7"/>
<circle cx="360.0" cy="1344.7" r="3.7"/>
<circle cx="411.9" cy="1352.4" r="3.7"/>
<circle cx="408.7" cy="1392.0" r="3.7"/>
<circle cx="312.7" cy="1419.4" r="3.7"/>
<circle cx="241.8" cy="1446.8" r="3.7"/>
<circle cx="311.9" cy="1524.1" r="3.7"/>
<circle cx="326.4" cy="1576.0" r="3.7"/>
<circle cx="439.4" cy="1220.2" r="3.7"/>
<circle cx="426.8" cy="1277.8" r="3.7"/>
<circle cx="494.2" cy="1274.7" r="3.7"/>
<circle cx="449.6" cy="1290.2" r="3.7"/>
<circle cx="462.2" cy="1291.3" r="3.7"/>
<circle cx="475.9" cy="1283.5" r="3.7"/>
<circle cx="488.7" cy="1288.5" r="3.7"/>
<circle cx="535.0" cy="1292.8" r="3.7"/>
<circle cx="431.4" cy="1322.9" r="3.7"/>
<circle cx="453.9" cy="1317.5" r="3.7"/>
<circle cx="461.5" cy="1323.4" r="3.7"/>
<circle cx="676.9" cy="1350.4" r="3.7"/>
<circle cx="648.9" cy="1363.9" r="3.7"/>
<circle cx="417.6" cy="1386.7" r="3.7"/>
<circle cx="470.5" cy="1413.0" r="3.7"/>
<circle cx="577.7" cy="1425.0" r="3.7"/>
<circle cx="637.1" cy="1436.9" r="3.7"/>
<circle cx="672.7" cy="1441.2" r="3.7"/>
<circle cx="590.8" cy="1472.1" r="3.7"/>
<circle cx="466.8" cy="1515.9" r="3.7"/>
<circle cx="622.3" cy="1515.9" r="3.7"/>
<circle cx="624.4" cy="1252.7" r="3.7"/>
<circle cx="548.9" cy="1261.0" r="3.7"/>
<circle cx="664.6" cy="1257.4" r="3.7"/>
<circle cx="579.8" cy="1295.3" r="3.7"/>
<circle cx="629.0" cy="1269.3" r="3.7"/>
<circle cx="641.7" cy="1288.0" r="3.7"/>
<circle cx="639.9" cy="1293.7" r="3.7"/>
<circle cx="662.7" cy="1295.3" r="3.7"/>
<circle cx="548.9" cy="1313.4" r="3.7"/>
<circle cx="536.7" cy="1324.8" r="3.7"/>
<circle cx="605.2" cy="1313.9" r="3.7"/>
<circle cx="625.4" cy="1310.8" r="3.7"/>
<circle cx="643.6" cy="1308.2" r="3.7"/>
<circle cx="659.1" cy="1304.6" r="3.7"/>
<circle cx="645.1" cy="1321.2" r="3.7"/>
<circle cx="606.9" cy="1324.8" r="3.7"/>
<circle cx="624.2" cy="1334.7" r="3.7"/>
<circle cx="652.7" cy="1332.1" r="3.7"/>
<circle cx="682.0" cy="1253.5" r="3.7"/>
<circle cx="690.9" cy="1250.7" r="3.7"/>
<circle cx="767.6" cy="1248.1" r="3.7"/>
<circle cx="771.2" cy="1260.0" r="3.7"/>
<circle cx="774.6" cy="1267.3" r="3.7"/>
<circle cx="783.4" cy="1268.8" r="3.7"/>
<circle cx="796.9" cy="1264.7" r="3.7"/>
<circle cx="717.3" cy="1279.2" r="3.7"/>
<circle cx="770.1" cy="1271.4" r="3.7"/>
<circle cx="749.4" cy="1277.1" r="3.7"/>
<circle cx="735.7" cy="1281.8" r="3.7"/>
<circle cx="732.1" cy="1285.9" r="3.7"/>
<circle cx="765.6" cy="1286.4" r="3.7"/>
<circle cx="774.9" cy="1281.8" r="3.7"/>
<circle cx="772.0" cy="1292.7" r="3.7"/>
<circle cx="794.3" cy="1278.7" r="3.7"/>
<circle cx="690.9" cy="1302.0" r="3.7"/>
<circle cx="715.5" cy="1305.4" r="3.7"/>
<circle cx="711.9" cy="1311.9" r="3.7"/>
<circle cx="733.8" cy="1316.8" r="3.7"/>
<circle cx="761.1" cy="1307.2" r="3.7"/>
<circle cx="790.9" cy="1308.7" r="3.7"/>
<circle cx="694.7" cy="1331.0" r="3.7"/>
<circle cx="743.8" cy="1336.2" r="3.7"/>
<circle cx="696.3" cy="1341.0" r="3.7"/>
<circle cx="720.8" cy="1347.6" r="3.7"/>
<circle cx="780.9" cy="1347.6" r="3.7"/>
<circle cx="800.6" cy="1354.3" r="3.7"/>
<circle cx="834.8" cy="1332.5" r="3.7"/>
<circle cx="825.5" cy="1385.0" r="3.7"/>
<circle cx="856.6" cy="1385.6" r="3.7"/>
<circle cx="860.1" cy="1407.8" r="3.7"/>
<circle cx="828.4" cy="1212.8" r="3.7"/>
<circle cx="832.0" cy="1213.0" r="3.7"/>
<circle cx="914.2" cy="1224.2" r="3.7"/>
<circle cx="920.5" cy="1212.6" r="3.7"/>
<circle cx="895.8" cy="1238.2" r="3.7"/>
<circle cx="908.2" cy="1239.8" r="3.7"/>
<circle cx="858.4" cy="1242.7" r="3.7"/>
<circle cx="868.5" cy="1246.0" r="3.7"/>
<circle cx="814.7" cy="1249.1" r="3.7"/>
<circle cx="806.4" cy="1253.5" r="3.7"/>
<circle cx="843.4" cy="1257.4" r="3.7"/>
<circle cx="854.3" cy="1253.8" r="3.7"/>
<circle cx="898.4" cy="1268.8" r="3.7"/>
<circle cx="841.9" cy="1265.2" r="3.7"/>
<circle cx="925.9" cy="1274.0" r="3.7"/>
<circle cx="800.1" cy="1273.0" r="3.7"/>
<circle cx="814.9" cy="1271.9" r="3.7"/>
<circle cx="842.4" cy="1281.3" r="3.7"/>
<circle cx="867.3" cy="1278.1" r="3.7"/>
<circle cx="883.0" cy="1277.6" r="3.7"/>
<circle cx="883.0" cy="1281.8" r="3.7"/>
<circle cx="826.8" cy="1309.3" r="3.7"/>
<circle cx="1017.5" cy="1227.3" r="3.7"/>
<circle cx="1046.0" cy="1224.1" r="3.7"/>
<circle cx="942.3" cy="1233.5" r="3.7"/>
<circle cx="980.7" cy="1238.1" r="3.7"/>
<circle cx="1036.1" cy="1238.5" r="3.7"/>
<circle cx="972.4" cy="1246.8" r="3.7"/>
<circle cx="1002.4" cy="1245.7" r="3.7"/>
<circle cx="1020.6" cy="1253.7" r="3.7"/>
<circle cx="1028.1" cy="1263.0" r="3.7"/>
<circle cx="930.4" cy="1251.1" r="3.7"/>
<circle cx="934.3" cy="1255.3" r="3.7"/>
<circle cx="948.8" cy="1255.6" r="3.7"/>
<circle cx="980.7" cy="1254.7" r="3.7"/>
<circle cx="940.7" cy="1264.8" r="3.7"/>
<circle cx="1047.0" cy="1276.5" r="3.7"/>
<circle cx="948.8" cy="1289.0" r="3.7"/>
<circle cx="1270.6" cy="1161.0" r="3.7"/>
<circle cx="1273.3" cy="1163.5" r="3.7"/>
<circle cx="1129.0" cy="1182.0" r="3.7"/>
<circle cx="1150.8" cy="1183.9" r="3.7"/>
<circle cx="1156.5" cy="1191.1" r="3.7"/>
<circle cx="1079.0" cy="1207.2" r="3.7"/>
<circle cx="1065.6" cy="1210.8" r="3.7"/>
<circle cx="1108.4" cy="1205.3" r="3.7"/>
<circle cx="1122.6" cy="1197.9" r="3.7"/>
<circle cx="1127.3" cy="1202.5" r="3.7"/>
<circle cx="1124.5" cy="1209.8" r="3.7"/>
<circle cx="1129.9" cy="1219.1" r="3.7"/>
<circle cx="1156.5" cy="1222.7" r="3.7"/>
<circle cx="1174.8" cy="1222.7" r="3.7"/>
<circle cx="1137.1" cy="1232.9" r="3.7"/>
<circle cx="1063.5" cy="1229.5" r="3.7"/>
<circle cx="1260.3" cy="1224.6" r="3.7"/>
<circle cx="1133.7" cy="1242.8" r="3.7"/>
<circle cx="1092.9" cy="1259.4" r="3.7"/>
<circle cx="1276.9" cy="1178.3" r="3.7"/>
<circle cx="1194.9" cy="1187.4" r="3.7"/>
<circle cx="1255.8" cy="1204.4" r="3.7"/>
<circle cx="1306.0" cy="1212.8" r="3.7"/>
<circle cx="884.6" cy="1177.5" r="3.7"/>
<circle cx="1065.6" cy="1232.8" r="3.7"/>
</g>
</g>
<polyline points="406.7,1287.5 690.0,1258.2 759.0,1253.0 845.5,1232.3 930.4,1228.3 1066.7,1174.5" fill="none" stroke="rgba(255,140,0,0.8)" stroke-width="8.6" stroke-linejoin="round" stroke-linecap="butt"/>
<polyline points="304.8,1354.3 530.0,1322.3 769.5,1312.0 883.0,1255.5 976.0,1230.5 1066.7,1173.3" fill="none" stroke="rgba(191,0,191,0.8)" stroke-width="8.6" stroke-linejoin="round" stroke-linecap="butt"/>
<polyline points="422.4,1330.5 625.2,1313.3 734.0,1286.0 1138.5,1207.3" fill="none" stroke="rgba(0,0,128,0.8)" stroke-width="8.6" stroke-linejoin="round" stroke-linecap="butt"/>
<rect x="152.7" y="884.1" width="325.1" height="325.7" rx="6.4" fill="#fff" fill-opacity="0.8" stroke="#cccccc" stroke-width="1.5"/>
<line x1="164.9" y1="907.7" x2="228.5" y2="907.7" stroke="#4a4a4a" stroke-width="3.8" stroke-dasharray="14 6.4"/>
<text x="252.9" y="919.0" font-size="32">DC14 prediction</text>
<line x1="160.4" y1="952.8" x2="232.4" y2="952.8" stroke="rgba(255,140,0,0.8)" stroke-width="8.7"/>
<text x="252.9" y="964.1" font-size="32">DC14 median</text>
<line x1="160.4" y1="997.9" x2="232.4" y2="997.9" stroke="rgba(191,0,191,0.8)" stroke-width="8.7"/>
<text x="252.9" y="1009.2" font-size="32">NIHAO median</text>
<line x1="160.4" y1="1043.1" x2="232.4" y2="1043.1" stroke="rgba(0,0,128,0.8)" stroke-width="8.7"/>
<text x="252.9" y="1054.4" font-size="32">FIRE-2 median</text>
<circle cx="196.5" cy="1091.6" r="3.7" fill="#ff8c00" fill-opacity="0.5" stroke="#ff8c00" stroke-opacity="0.5" stroke-width="1.1"/>
<text x="252.9" y="1099.5" font-size="32">DC14 MCMC</text>
<circle cx="196.5" cy="1136.7" r="3.7" fill="#bf00bf" fill-opacity="0.5" stroke="#bf00bf" stroke-opacity="0.5" stroke-width="1.1"/>
<text x="252.9" y="1144.6" font-size="32">NIHAO MCMC</text>
<circle cx="196.5" cy="1181.8" r="3.7" fill="#000080" fill-opacity="0.5" stroke="#000080" stroke-opacity="0.5" stroke-width="1.1"/>
<text x="252.9" y="1189.7" font-size="32">FIRE-2 MCMC</text>
<line x1="136.0" y1="1608.2" x2="136.0" y2="1601.7" stroke="#000" stroke-width="2"/>
<line x1="136.0" y1="867.7" x2="136.0" y2="874.2" stroke="#000" stroke-width="2"/>
<rect x="102.01" y="1628.65" width="20.9" height="2.5" fill="#000"/>
<text x="124.17" y="1639.20" font-size="38.5">3.5</text>
<line x1="332.4" y1="1608.2" x2="332.4" y2="1601.7" stroke="#000" stroke-width="2"/>
<line x1="332.4" y1="867.7" x2="332.4" y2="874.2" stroke="#000" stroke-width="2"/>
<rect x="298.43" y="1628.65" width="20.9" height="2.5" fill="#000"/>
<text x="320.58" y="1639.20" font-size="38.5">3.0</text>
<line x1="528.9" y1="1608.2" x2="528.9" y2="1601.7" stroke="#000" stroke-width="2"/>
<line x1="528.9" y1="867.7" x2="528.9" y2="874.2" stroke="#000" stroke-width="2"/>
<rect x="494.80" y="1628.65" width="20.9" height="2.5" fill="#000"/>
<text x="517.11" y="1639.20" font-size="38.5">2.5</text>
<line x1="725.3" y1="1608.2" x2="725.3" y2="1601.7" stroke="#000" stroke-width="2"/>
<line x1="725.3" y1="867.7" x2="725.3" y2="874.2" stroke="#000" stroke-width="2"/>
<rect x="691.22" y="1628.65" width="20.9" height="2.5" fill="#000"/>
<text x="713.52" y="1639.20" font-size="38.5">2.0</text>
<line x1="921.7" y1="1608.2" x2="921.7" y2="1601.7" stroke="#000" stroke-width="2"/>
<line x1="921.7" y1="867.7" x2="921.7" y2="874.2" stroke="#000" stroke-width="2"/>
<rect x="888.51" y="1628.65" width="20.9" height="2.5" fill="#000"/>
<text x="909.13" y="1639.20" font-size="38.5">1.5</text>
<line x1="1118.2" y1="1608.2" x2="1118.2" y2="1601.7" stroke="#000" stroke-width="2"/>
<line x1="1118.2" y1="867.7" x2="1118.2" y2="874.2" stroke="#000" stroke-width="2"/>
<rect x="1084.93" y="1628.65" width="20.9" height="2.5" fill="#000"/>
<text x="1105.55" y="1639.20" font-size="38.5">1.0</text>
<line x1="1314.6" y1="1608.2" x2="1314.6" y2="1601.7" stroke="#000" stroke-width="2"/>
<line x1="1314.6" y1="867.7" x2="1314.6" y2="874.2" stroke="#000" stroke-width="2"/>
<rect x="1280.42" y="1628.65" width="20.9" height="2.5" fill="#000"/>
<text x="1302.96" y="1639.20" font-size="38.5">0.5</text>
<line x1="136" y1="1608.2" x2="142.5" y2="1608.2" stroke="#000" stroke-width="2"/>
<line x1="1314.6" y1="1608.2" x2="1308.1" y2="1608.2" stroke="#000" stroke-width="2"/>
<rect x="62.33" y="1610.45" width="20.9" height="2.5" fill="#000"/>
<text x="84.14" y="1621.00" font-size="38.5">2.0</text>
<line x1="136" y1="1525.9" x2="142.5" y2="1525.9" stroke="#000" stroke-width="2"/>
<line x1="1314.6" y1="1525.9" x2="1308.1" y2="1525.9" stroke="#000" stroke-width="2"/>
<rect x="64.06" y="1528.38" width="20.9" height="2.5" fill="#000"/>
<text x="84.18" y="1538.93" font-size="38.5">1.5</text>
<line x1="136" y1="1443.6" x2="142.5" y2="1443.6" stroke="#000" stroke-width="2"/>
<line x1="1314.6" y1="1443.6" x2="1308.1" y2="1443.6" stroke="#000" stroke-width="2"/>
<rect x="64.03" y="1446.32" width="20.9" height="2.5" fill="#000"/>
<text x="84.14" y="1456.87" font-size="38.5">1.0</text>
<line x1="136" y1="1361.4" x2="142.5" y2="1361.4" stroke="#000" stroke-width="2"/>
<line x1="1314.6" y1="1361.4" x2="1308.1" y2="1361.4" stroke="#000" stroke-width="2"/>
<rect x="62.15" y="1364.25" width="20.9" height="2.5" fill="#000"/>
<text x="84.18" y="1374.80" font-size="38.5">0.5</text>
<line x1="136" y1="1279.1" x2="142.5" y2="1279.1" stroke="#000" stroke-width="2"/>
<line x1="1314.6" y1="1279.1" x2="1308.1" y2="1279.1" stroke="#000" stroke-width="2"/>
<text x="84.14" y="1292.73" font-size="38.5">0.0</text>
<line x1="136" y1="1196.8" x2="142.5" y2="1196.8" stroke="#000" stroke-width="2"/>
<line x1="1314.6" y1="1196.8" x2="1308.1" y2="1196.8" stroke="#000" stroke-width="2"/>
<text x="84.18" y="1210.67" font-size="38.5">0.5</text>
<line x1="136" y1="1114.5" x2="142.5" y2="1114.5" stroke="#000" stroke-width="2"/>
<line x1="1314.6" y1="1114.5" x2="1308.1" y2="1114.5" stroke="#000" stroke-width="2"/>
<text x="84.14" y="1128.60" font-size="38.5">1.0</text>
<line x1="136" y1="1032.3" x2="142.5" y2="1032.3" stroke="#000" stroke-width="2"/>
<line x1="1314.6" y1="1032.3" x2="1308.1" y2="1032.3" stroke="#000" stroke-width="2"/>
<text x="84.18" y="1046.53" font-size="38.5">1.5</text>
<line x1="136" y1="950.0" x2="142.5" y2="950.0" stroke="#000" stroke-width="2"/>
<line x1="1314.6" y1="950.0" x2="1308.1" y2="950.0" stroke="#000" stroke-width="2"/>
<text x="84.14" y="964.47" font-size="38.5">2.0</text>
<line x1="136" y1="867.7" x2="142.5" y2="867.7" stroke="#000" stroke-width="2"/>
<line x1="1314.6" y1="867.7" x2="1308.1" y2="867.7" stroke="#000" stroke-width="2"/>
<text x="84.18" y="882.40" font-size="38.5">2.5</text>
<rect x="136" y="867.7" width="1178.6" height="740.5" fill="none" stroke="#000" stroke-width="2.2"/>
<text x="566.31" y="1689.70" font-size="50.7">l</text>
<text x="580.08" y="1689.70" font-size="50.7">o</text>
<text x="604.97" y="1689.70" font-size="50.7">g</text>
<text x="631.36" y="1696.10" font-size="35.0">1</text>
<text x="649.75" y="1696.10" font-size="35.0">0</text>
<text x="675.36" y="1689.70" font-size="50.7">(</text>
<text x="691.07" y="1689.70" font-size="50.7" font-style="italic">M</text>
<text x="770.61" y="1689.70" font-size="50.7">/</text>
<text x="784.57" y="1689.70" font-size="50.7" font-style="italic">M</text>
<text x="828.56" y="1696.10" font-size="35.0">vir</text>
<text x="868.96" y="1689.70" font-size="50.7">)</text>
<polygon points="751.20,1676.40 748.50,1683.28 741.12,1683.72 746.83,1688.42 744.97,1695.58 751.20,1691.60 757.43,1695.58 755.57,1688.42 761.28,1683.72 753.90,1683.28" fill="#000"/>
<text transform="translate(39.00,1400.99) rotate(-90)" font-size="50.7">l</text>
<text transform="translate(39.00,1387.42) rotate(-90)" font-size="50.7">o</text>
<text transform="translate(39.00,1362.83) rotate(-90)" font-size="50.7">g</text>
<text transform="translate(45.40,1336.54) rotate(-90)" font-size="35.0">1</text>
<text transform="translate(45.40,1317.60) rotate(-90)" font-size="35.0">0</text>
<text transform="translate(39.00,1291.64) rotate(-90)" font-size="50.7">(</text>
<text transform="translate(39.00,1276.21) rotate(-90)" font-size="50.7" font-style="italic">c</text>
<text transform="translate(45.40,1249.79) rotate(-90)" font-size="35.0">−</text>
<text transform="translate(45.40,1229.15) rotate(-90)" font-size="35.0">2</text>
<text transform="translate(39.00,1208.94) rotate(-90)" font-size="50.7">/</text>
<text transform="translate(39.00,1195.36) rotate(-90)" font-size="50.7" font-style="italic">c</text>
<text transform="translate(45.40,1173.01) rotate(-90)" font-size="35.0">NFW</text>
<text transform="translate(39.00,1092.14) rotate(-90)" font-size="50.7">)</text>
</svg></body></html>
